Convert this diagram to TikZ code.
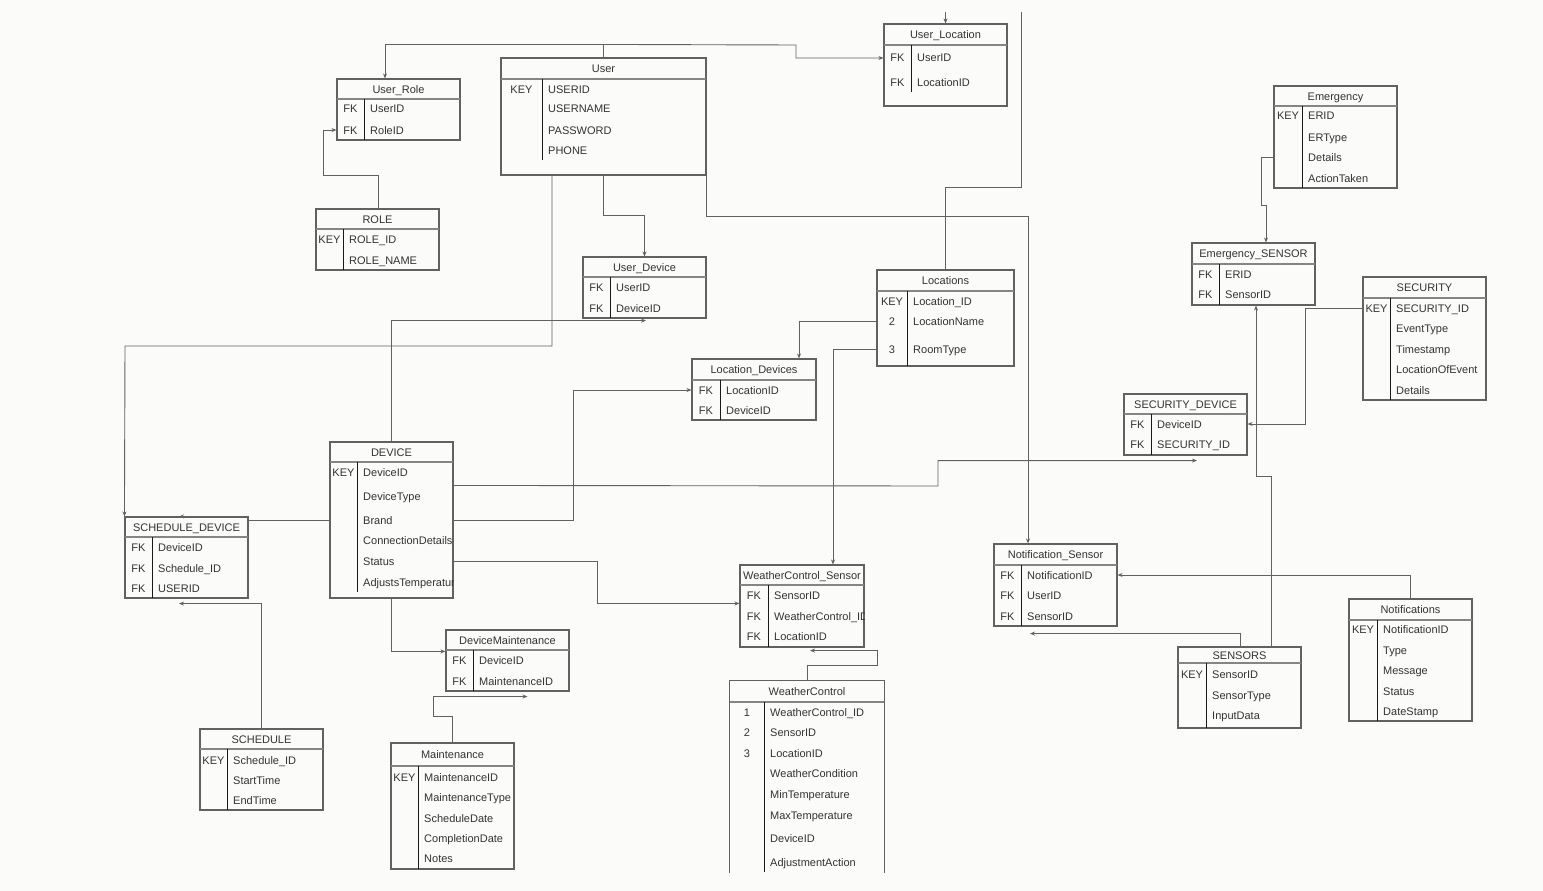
\documentclass[tikz,border=0pt]{standalone}
\usepackage{fontspec}
\setmainfont{Liberation Sans}
\usetikzlibrary{arrows.meta}
\usetikzlibrary{fit}
\definecolor{bgcol}{RGB}{251,251,250}

% table: name, x1, y1, x2, y2, header y, divider x, divider end, title
\newcommand\ertable[9]{%
	\node[tbl, fit={(#2,#3) (#4,#5)}] (#1) {};
	\draw[hdrline] (#2,#6) -- (#4,#6);
	\node[ttl] (#1-t) at ({(#2+#4)/2},{(#3+#6)/2}) {#9};
	\draw[divline] (#7,#6) -- (#7,#8);
}
% rows: name, x1, divider x, list y/key/field
\newcommand\errows[4]{%
	\foreach \ypos/\kname/\fname [count=\i] in {#4}{
		\node[keytxt] at ({(#2+#3)/2},\ypos) {\kname};
		\node[fldtxt] (#1-\i) at (#3+6,\ypos) {\fname};
	}
}

\begin{document}
\begin{tikzpicture}[x=1pt,y=-1pt,>={Stealth[length=5pt,width=4pt]},
	font=\fontsize{11}{13}\selectfont,
	tbl/.style={draw=black!62,line width=1.1pt,inner sep=0pt},
	hdrline/.style={draw=black!48,line width=1.4pt},
	divline/.style={draw=black!90,line width=0.8pt},
	ttl/.style={inner sep=0pt,text height=8pt,text depth=0pt,text=black!80},
	keytxt/.style={inner sep=0pt,text height=8pt,text depth=0pt,text=black!80},
	fldtxt/.style={anchor=west,inner sep=0pt,text height=8pt,text depth=0pt,text=black!80},
	conn/.style={draw=black!62,line width=0.9pt}]
	\fill[bgcol] (0,0) rectangle (1543,891);

	% tables
	\ertable{userrole}{337}{79}{460}{140}{99}{364}{140}{User\_Role}
	\errows{userrole}{337}{364}{109/FK/UserID, 130/FK/RoleID}

	\ertable{user}{501}{58}{706}{175}{79}{542}{160}{User}
	\errows{user}{501}{542}{89/KEY/USERID, 109/{}/USERNAME, 130/{}/PASSWORD, 150/{}/PHONE}

	\ertable{userloc}{884}{24}{1007}{106}{45}{911}{92}{User\_Location}
	\errows{userloc}{884}{911}{58/FK/UserID, 82/FK/LocationID}

	\ertable{emerg}{1274}{86}{1397}{188}{106}{1302}{188}{Emergency}
	\errows{emerg}{1274}{1302}{116/KEY/ERID, 137/{}/ERType, 157/{}/Details, 178/{}/ActionTaken}

	\ertable{role}{316}{209}{439}{270}{229}{343}{270}{ROLE}
	\errows{role}{316}{343}{239/KEY/ROLE\_ID, 260/{}/ROLE\_NAME}

	\ertable{userdev}{583}{257}{706}{318}{277}{610}{318}{User\_Device}
	\errows{userdev}{583}{610}{287/FK/UserID, 308/FK/DeviceID}

	\ertable{loc}{877}{270}{1014}{366}{291}{907}{366}{Locations}
	\errows{loc}{877}{907}{301/KEY/Location\_ID, 321/2/LocationName, 349/3/RoomType}

	\ertable{emsens}{1192}{243}{1315}{305}{264}{1219}{305}{Emergency\_SENSOR}
	\errows{emsens}{1192}{1219}{274/FK/ERID, 294/FK/SensorID}

	\ertable{secur}{1363}{277}{1486}{400}{298}{1390}{400}{SECURITY}
	\errows{secur}{1363}{1390}{308/KEY/SECURITY\_ID, 328/{}/EventType, 349/{}/Timestamp, 369/{}/LocationOfEvent, 390/{}/Details}

	\ertable{locdev}{692}{359}{816}{420}{380}{720}{420}{Location\_Devices}
	\errows{locdev}{692}{720}{390/FK/LocationID, 410/FK/DeviceID}

	\ertable{secdev}{1124}{394}{1247}{455}{414}{1151}{455}{SECURITY\_DEVICE}
	\errows{secdev}{1124}{1151}{424/FK/DeviceID, 444/FK/SECURITY\_ID}

	\ertable{device}{330}{442}{453}{598}{462}{357}{592}{DEVICE}
	\begin{scope}
		\clip (device.south west) rectangle (device.north east);
		\errows{device}{330}{357}{472/KEY/DeviceID, 496/{}/DeviceType, 520/{}/Brand, 540/{}/ConnectionDetails, 561/{}/Status, 582/{}/AdjustsTemperatur}
	\end{scope}

	\ertable{schdev}{125}{517}{248}{598}{537}{152}{598}{SCHEDULE\_DEVICE}
	\errows{schdev}{125}{152}{547/FK/DeviceID, 568/FK/Schedule\_ID, 588/FK/USERID}

	\ertable{wcsens}{740}{565}{864}{647}{585}{768}{647}{WeatherControl\_Sensor}
	\begin{scope}
		\clip (wcsens.south west) rectangle (wcsens.north east);
		\errows{wcsens}{740}{768}{595/FK/SensorID, 616/FK/WeatherControl\_ID, 636/FK/LocationID}
	\end{scope}

	\ertable{notsens}{994}{544}{1117}{626}{565}{1021}{626}{Notification\_Sensor}
	\errows{notsens}{994}{1021}{575/FK/NotificationID, 595/FK/UserID, 616/FK/SensorID}

	\ertable{devmaint}{446}{630}{569}{691}{650}{473}{691}{DeviceMaintenance}
	\errows{devmaint}{446}{473}{660/FK/DeviceID, 681/FK/MaintenanceID}

	\ertable{notif}{1349}{599}{1472}{721}{620}{1377}{721}{Notifications}
	\errows{notif}{1349}{1377}{629/KEY/NotificationID, 650/{}/Type, 670/{}/Message, 691/{}/Status, 711/{}/DateStamp}

	\ertable{sensors}{1178}{647}{1301}{728}{663}{1206}{728}{SENSORS}
	\errows{sensors}{1178}{1206}{674/KEY/SensorID, 695/{}/SensorType, 715/{}/InputData}

	\ertable{sched}{200}{729}{323}{810}{749}{227}{810}{SCHEDULE}
	\errows{sched}{200}{227}{760/KEY/Schedule\_ID, 780/{}/StartTime, 800/{}/EndTime}

	\ertable{maint}{391}{743}{514}{869}{766}{418}{869}{Maintenance}
	\errows{maint}{391}{418}{777/KEY/MaintenanceID, 797/{}/MaintenanceType, 818/{}/ScheduleDate, 838/{}/CompletionDate, 858/{}/Notes}

	\begin{scope}[tbl/.append style={draw=none}]
		\ertable{wc}{730}{681}{884}{872}{702}{764}{872}{WeatherControl}
	\end{scope}
	\draw[tbl] (wc.south west) |- (wc.north east) -- (wc.south east);
	\errows{wc}{730}{764}{712/1/WeatherControl\_ID, 732/2/SensorID, 753/3/LocationID, 773/{}/WeatherCondition, 794/{}/MinTemperature, 815/{}/MaxTemperature, 838/{}/DeviceID, 862/{}/AdjustmentAction}

	% connectors
	\coordinate (topa) at (945.5,12);
	\coordinate (topb) at (1021,12);
	\draw[conn] (user.north) -- ++(0,-13) coordinate (uj);
	\draw[conn,->] (uj) -| ([xshift=-13.5pt]userrole.north);
	\draw[conn,->] (uj) -- (796,45) |- (userloc.west |- userloc-1);
	\draw[conn,->] ([xshift=1pt]role.north) |- (323,175) |- (userrole.west |- userrole-2);
	\draw[conn,->] (user.south) -- ++(0,40) -| (userdev.north);
	\draw[conn,->] (user.south -| 552,0) |- (125,346) -- (schdev.north west);
	\draw[conn,->] (user.south east) |- (1028,216) -- (notsens.north -| 1028,0);
	\draw[conn,->] (topa) -- (userloc.north);
	\draw[conn] (loc.north) -- ++(0,-82) -| (topb);
	\draw[conn,->] (loc.west |- loc-2) -| ([xshift=45pt]locdev.north);
	\draw[conn,->] (loc.west |- loc-3) -| ([xshift=31pt]wcsens.north);

	\draw[conn,->] (device.north) |- ([xshift=1.5pt,yshift=-2pt]userdev.south);
	\draw[conn,->] (device.east |- device-3) -- (573,520) |- (locdev.west |- locdev-1);
	\draw[conn,->] ([yshift=-44pt]device.north east) -- (938,486) |- ([xshift=11.5pt,yshift=-5pt]secdev.south);
	\draw[conn,->] (device.east |- device-5) -- (597,561) |- ([yshift=-39pt]wcsens.north west);
	\draw[conn,->] (device.west |- device-3) -- (248,520) |- ([xshift=-7.5pt]schdev.north);
	\draw[conn,->] (sched.north) |- ([xshift=-7.5pt,yshift=-5pt]schdev.south);
	\draw[conn,->] (device.south) |- ([yshift=-22pt]devmaint.north west);
	\draw[conn,->] (maint.north) |- (433,716) |- ([xshift=20pt,yshift=-5pt]devmaint.south);
	\draw[conn,->] (wc.north) |- (877,665) |- ([xshift=8pt,yshift=-3pt]wcsens.south);

	\draw[conn,->] (emerg.west |- emerg-3) -| (1261,205) -| ([xshift=12.5pt]emsens.north);
	\draw[conn,->] ([xshift=31.5pt]sensors.north) |- (1256,476) -- ([xshift=2.5pt]emsens.south);
	\draw[conn,->] ([xshift=1pt]sensors.north) |- ([xshift=-25.5pt,yshift=-7pt]notsens.south);
	\draw[conn,->] (notif.north) |- (notsens.east |- notsens-1);
	\draw[conn,->] (secur.west |- secur-1) -| (1305,424) -- (secdev.east |- secdev-1);
\end{tikzpicture}
\end{document}
